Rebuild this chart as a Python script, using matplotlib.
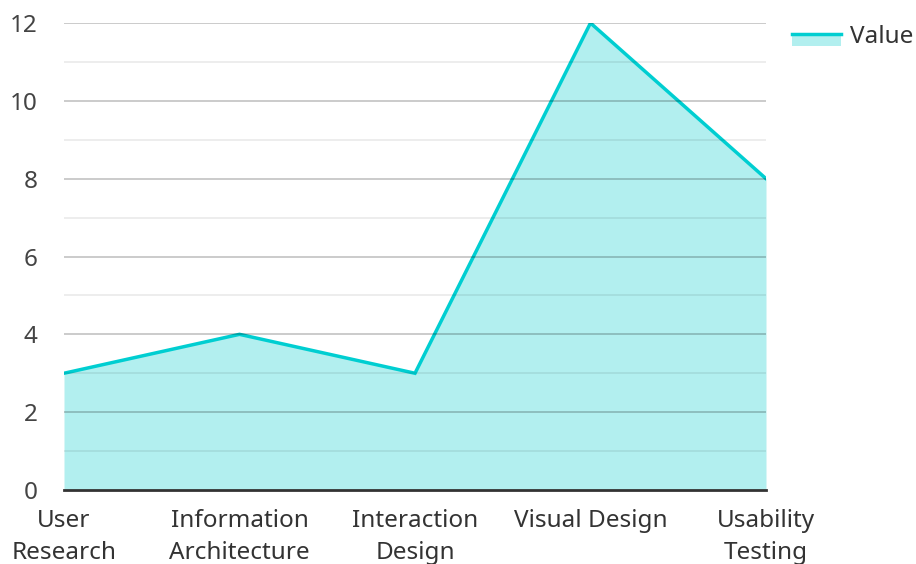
import matplotlib
matplotlib.use("Agg")
import matplotlib.pyplot as plt
from matplotlib.patches import Rectangle
from matplotlib.lines import Line2D
from matplotlib.legend_handler import HandlerBase

categories = ["User\nResearch", "Information\nArchitecture", "Interaction\nDesign", "Visual Design", "Usability\nTesting"]
values = [3, 4, 3, 12, 8]
yticks = [0, 2, 4, 6, 8, 10, 12]

plt.rcParams['font.family'] = ['Noto Sans', 'DejaVu Sans']

FW, FH = 916, 564
fig = plt.figure(figsize=(FW/100, FH/100), dpi=100)
ax = fig.add_axes([64/FW, 1 - 490/FH, (766-64)/FW, (490-23)/FH])

line_c = "#00CED1"
fill_c = "#B2EFEF"
x = list(range(len(categories)))
ax.fill_between(x, values, 0, color=fill_c, lw=0, zorder=2)
ax.plot(x, values, color=line_c, lw=2.5, zorder=3, solid_joinstyle='miter')

ax.set_xlim(0, len(categories)-1)
ax.set_ylim(0, 12)
for v in range(1, 13):
    if v % 2 == 0:
        ax.axhline(v, color="#000000", alpha=0.22, lw=1.3, zorder=4)
    else:
        ax.axhline(v, color="#000000", alpha=0.08, lw=1.3, zorder=4)
ax.axhline(0, color="#333333", lw=2, zorder=5, clip_on=False)

for s in ax.spines.values():
    s.set_visible(False)
ax.set_yticks(yticks)
ax.set_yticklabels([str(t) for t in yticks], fontsize=17.5, color="#444444")
ax.tick_params(axis='y', length=0, pad=19)
ax.set_xticks(x)
ax.set_xticklabels(categories, fontsize=17.5, color="#333333", linespacing=1.4)
ax.tick_params(axis='x', length=0, pad=14)

class FillLineHandler(HandlerBase):
    def create_artists(self, legend, orig, xd, yd, width, height, fontsize, trans):
        ly = yd + height * 0.5
        r = Rectangle((xd, ly - 8), width, 8, facecolor=fill_c, edgecolor='none', transform=trans)
        l = Line2D([xd, xd+width], [ly, ly], color=line_c, lw=2.5, transform=trans)
        return [r, l]

h = Line2D([], [])
leg = fig.legend([h], ["Value"], handler_map={h: FillLineHandler()}, loc='upper left',
                 bbox_to_anchor=(792/FW, 1 - 25/FH), frameon=False, fontsize=17.5,
                 handlelength=2.0, handletextpad=0.37, borderpad=0, borderaxespad=0)
for t in leg.get_texts():
    t.set_color("#333333")

fig.savefig("out.png", dpi=100)
